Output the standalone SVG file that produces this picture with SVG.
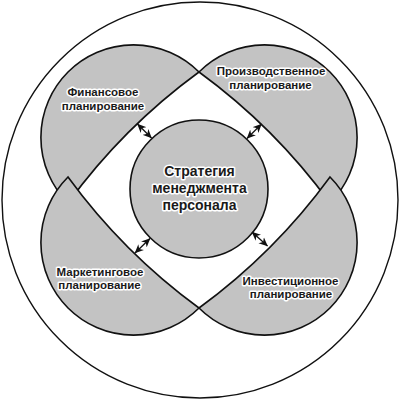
<svg xmlns="http://www.w3.org/2000/svg" width="400" height="400" viewBox="0 0 400 400">
  <style>
    .petal { fill: #c3c3c3; stroke: #111; stroke-width: 1.6; stroke-linejoin: miter; }
    .core { fill: #c3c3c3; stroke: #111; stroke-width: 1.6; }
    .frame { fill: #fff; stroke: #111; stroke-width: 1.4; }
    .lbl { font-family: "Liberation Sans", Arial, sans-serif; font-weight: bold; font-size: 11.5px; fill: #1a1a1a; stroke: #fff; stroke-width: 3; paint-order: stroke; stroke-linejoin: round; text-anchor: middle; }
    .big { font-size: 14px; }
    .conn { stroke: #111; stroke-width: 1.3; fill: none; marker-start: url(#ah); marker-end: url(#ah); }
  </style>
  <defs>
    <marker id="ah" viewBox="0 0 10 10" refX="9.5" refY="5" markerWidth="9" markerHeight="9" markerUnits="userSpaceOnUse" orient="auto-start-reverse">
      <path d="M0,0.5 L10,5 L0,9.5 L3,5 z" fill="#111"/>
    </marker>
  </defs>

  <rect width="400" height="400" fill="#fff"/>
  <circle id="outer" class="frame" cx="200" cy="200" r="198"/>

  <g id="financial">
    <path class="petal" d="M199,72 A92.6,92.6 0 0 0 68,203 A600,600 0 0 1 199,72 Z"/>
    <text class="lbl" x="103" y="96">Финансовое</text>
    <text class="lbl" x="103" y="109.5">планирование</text>
  </g>
  <g id="production">
    <path class="petal" d="M199,72 A92.6,92.6 0 0 1 330,203 A600,600 0 0 0 199,72 Z"/>
    <text class="lbl" x="271" y="75">Производственное</text>
    <text class="lbl" x="270.5" y="88.5">планирование</text>
  </g>
  <g id="marketing">
    <path class="petal" d="M68,177 A92.6,92.6 0 0 0 199,308 A600,600 0 0 1 68,177 Z"/>
    <text class="lbl" x="100" y="275.5">Маркетинговое</text>
    <text class="lbl" x="99.5" y="289">планирование</text>
  </g>
  <g id="investment">
    <path class="petal" d="M330,177 A92.6,92.6 0 0 1 199,308 A600,600 0 0 0 330,177 Z"/>
    <text class="lbl" x="290.5" y="284.5">Инвестиционное</text>
    <text class="lbl" x="291" y="298">планирование</text>
  </g>
  <g id="strategy">
    <circle class="core" cx="199" cy="189" r="69"/>
    <text class="lbl big" x="199.5" y="176">Стратегия</text>
    <text class="lbl big" x="199.5" y="193">менеджмента</text>
    <text class="lbl big" x="199.5" y="210">персонала</text>
  </g>

  <g id="connectors">
    <line class="conn" x1="137.5" y1="124" x2="151.5" y2="138"/>
    <line class="conn" x1="261.5" y1="124" x2="247" y2="138.5"/>
    <line class="conn" x1="135" y1="253" x2="150" y2="238.5"/>
    <line class="conn" x1="267.5" y1="246" x2="252" y2="232"/>
  </g>
</svg>
